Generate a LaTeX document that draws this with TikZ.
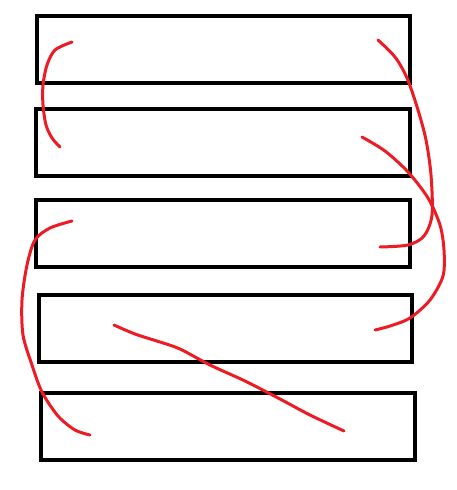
\documentclass[tikz,border=0pt]{standalone}
\usepackage{tikz}
\definecolor{paintred}{RGB}{237,28,36}

\begin{document}
\begin{tikzpicture}[x=1pt,y=-1pt]
\useasboundingbox (0,0) rectangle (456,490);
\tikzset{box/.style={line width=4pt,line join=miter},
         scribble/.style={paintred,line width=3pt,line cap=round}}
\draw[box] (37,16) rectangle (410,83);   % row 1
\draw[box] (36,109) rectangle (410,176); % row 2
\draw[box] (36,200) rectangle (410,267); % row 3
\draw[box] (39,295) rectangle (412,362); % row 4
\draw[box] (41,393) rectangle (415,460); % row 5
\draw[scribble] plot[smooth] coordinates {(72,42) (55,50) (47,65) (43,85) (43,105) (46,125) (52,138) (60,147)};
\draw[scribble] plot[smooth] coordinates {(378,40) (395,57) (407,78) (418,110) (426,140) (431,175) (432,215) (424,236) (408,245) (380,247)};
\draw[scribble] plot[smooth] coordinates {(362,137) (385,151) (408,172) (428,198) (440,225) (444,250) (443,276) (430,300) (410,318) (390,326) (375,330)};
\draw[scribble] plot[smooth] coordinates {(72,221) (50,228) (35,240) (27,265) (22,300) (23,335) (32,365) (42,392) (58,416) (75,430) (90,435)};
\draw[scribble] plot[smooth] coordinates {(114,325) (135,334) (160,342) (180,349) (210,365) (245,381) (280,399) (310,415) (344,431)};
\end{tikzpicture}
\end{document}
